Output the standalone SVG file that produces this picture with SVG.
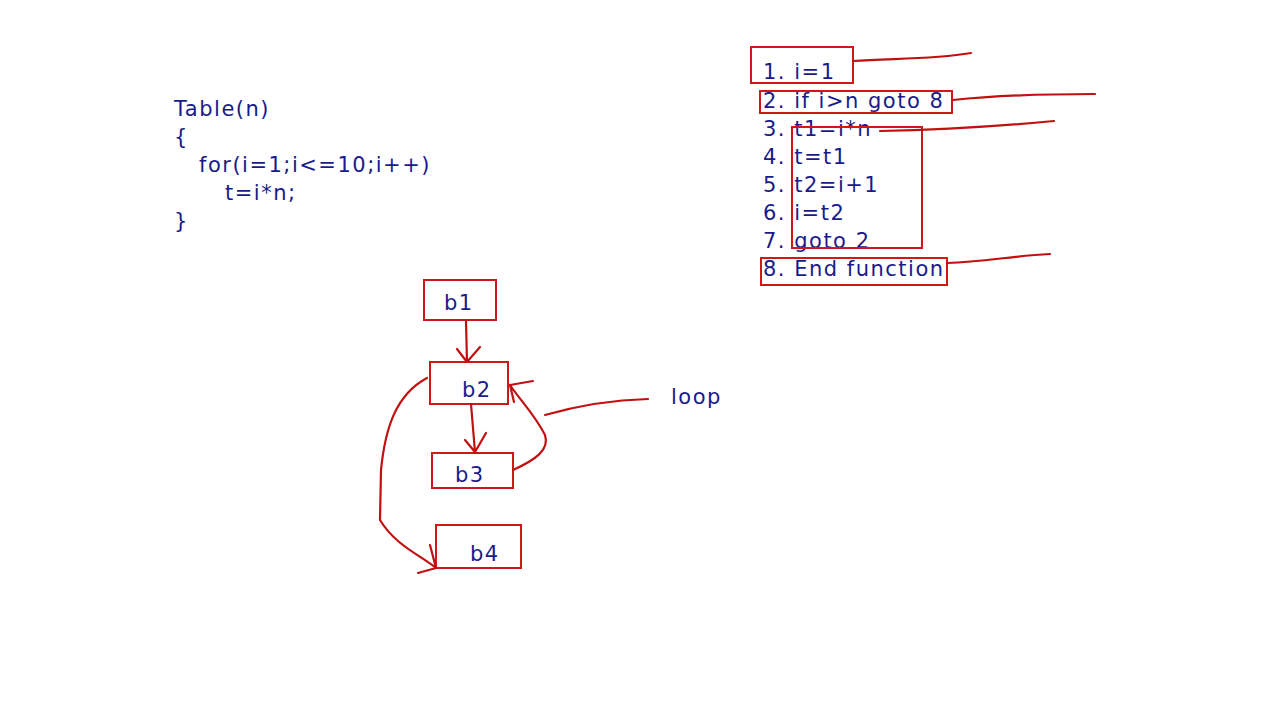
<svg xmlns="http://www.w3.org/2000/svg" width="1280" height="720" viewBox="0 0 1280 720">
<style>
text{font-family:"DejaVu Sans","Noto Sans",sans-serif;font-size:21px;letter-spacing:1.5px;fill:#1a1a8c}
.b{fill:none;stroke:#d01818;stroke-width:2}
.c{fill:none;stroke:#c01010;stroke-width:2.2;stroke-linecap:round;stroke-linejoin:round}
</style>
<rect width="1280" height="720" fill="#fff"/>
<g id="code">
<text x="174" y="116">Table(n)</text>
<text x="174" y="144">{</text>
<text x="199" y="172">for(i=1;i&lt;=10;i++)</text>
<text x="225" y="200">t=i*n;</text>
<text x="174" y="228">}</text>
</g>
<g id="tac">
<text x="763" y="79">1. i=1</text>
<text x="763" y="108">2. if i&gt;n goto 8</text>
<text x="763" y="136">3. t1=i*n</text>
<text x="763" y="164">4. t=t1</text>
<text x="763" y="192">5. t2=i+1</text>
<text x="763" y="220">6. i=t2</text>
<text x="763" y="248">7. goto 2</text>
<text x="763" y="276">8. End function</text>
<rect class="b" x="751" y="47" width="102" height="36"/>
<rect class="b" x="760" y="91" width="192" height="22"/>
<rect class="b" x="792" y="127" width="130" height="121"/>
<rect class="b" x="761" y="258" width="186" height="27"/>
<path class="c" d="M853 61 C890 58 930 60 971 53"/>
<path class="c" d="M953 100 C1000 95 1050 94 1095 94"/>
<path class="c" d="M880 131 C930 130 980 128 1054 121"/>
<path class="c" d="M947 263 C985 262 1010 256 1050 254"/>
</g>
<g id="b1"><rect class="b" x="424" y="280" width="72" height="40"/><text x="444" y="310">b1</text></g>
<g id="b2"><rect class="b" x="430" y="362" width="78" height="42"/><text x="462" y="397">b2</text></g>
<g id="b3"><rect class="b" x="432" y="453" width="81" height="35"/><text x="455" y="482">b3</text></g>
<g id="b4"><rect class="b" x="436" y="525" width="85" height="43"/><text x="470" y="561">b4</text></g>
<text x="671" y="404">loop</text>
<g id="connectors">
<path class="c" d="M466 321 L467 362 M457 349 L467 362 L480 347"/>
<path class="c" d="M471 404 L475 452 M465 440 L475 452 L486 433"/>
<path class="c" d="M513 470 C535 460 550 450 545 435 C535 415 520 400 510 385 M510 385 L533 381 M510 385 L514 402"/>
<path class="c" d="M427 378 C395 395 385 430 381 470 L380 520 C395 545 420 555 436 568 M436 568 L430 545 M436 568 L418 573"/>
<path class="c" d="M545 415 C580 405 610 400 648 399"/>
</g>
</svg>
